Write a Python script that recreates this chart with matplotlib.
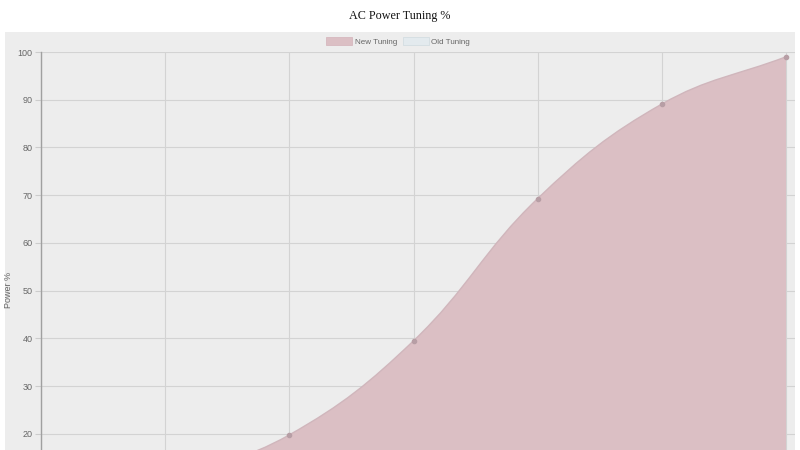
import matplotlib
matplotlib.use("Agg")
import matplotlib.pyplot as plt
from matplotlib.path import Path
from matplotlib.patches import PathPatch, Rectangle
import numpy as np

# ---- data ----
x_labels = ["0", "1", "2", "3", "4", "5", "6"]
new_tuning = [0, 10, 19.8, 39.5, 69.3, 89.1, 99.0]
old_tuning = []
y_ticks = [20, 30, 40, 50, 60, 70, 80, 90, 100]

W, H = 800, 450
fig = plt.figure(figsize=(8, 4.5), dpi=100)
fig.patch.set_facecolor("white")

# gray chart background
fig.add_artist(Rectangle((5 / W, 0), 790 / W, (H - 32) / H, transform=fig.transFigure,
                         facecolor="#ededed", edgecolor="none", zorder=0))

left_px, right_px, top_px, bottom_px = 41, 795, 52, 529.4
ax = fig.add_axes([left_px / W, 1 - bottom_px / H, (right_px - left_px) / W, (bottom_px - top_px) / H])
ax.set_facecolor("none")
xmax = (len(new_tuning) - 1) * (right_px - left_px) / (786 - left_px)
ax.set_xlim(0, xmax)
ax.set_ylim(0, 100)
ax.set_yticks(y_ticks)
ax.set_yticklabels([str(v) for v in y_ticks], fontsize=6.5, color="#666666", family="Liberation Sans")
# x labels lie below the visible (cropped) canvas in the reference
ax.set_xticks(range(len(x_labels)))
ax.set_xticklabels([])
ax.tick_params(axis="x", length=0)
ax.tick_params(axis="y", length=4, color="#cccccc", pad=2)
ax.grid(True, color="#d3d3d3", linewidth=0.8)
ax.set_axisbelow(True)
for s in ["top", "right", "bottom"]:
    ax.spines[s].set_visible(False)
ax.spines["left"].set_color("#a0a0a0")
ax.spines["left"].set_linewidth(1)

# y-axis title
fig.text(8.5 / W, 1 - 290 / H, "Power %", rotation=90, ha="center", va="center",
         fontsize=6.5, color="#666666", family="Liberation Sans")

# Chart.js-like bezier curve (tension 0.4) computed in display space
fig.canvas.draw()
xs = np.arange(len(new_tuning), dtype=float)
pts = ax.transData.transform(np.column_stack([xs, new_tuning]))
t = 0.4
n = len(pts)
cp_prev = np.zeros_like(pts)
cp_next = np.zeros_like(pts)
for i in range(n):
    prev = pts[i - 1] if i > 0 else pts[i]
    cur = pts[i]
    nxt = pts[i + 1] if i < n - 1 else pts[i]
    d01 = np.hypot(*(cur - prev))
    d12 = np.hypot(*(nxt - cur))
    tot = d01 + d12
    s01 = d01 / tot if tot else 0
    s12 = d12 / tot if tot else 0
    cp_prev[i] = cur - t * s01 * (nxt - prev)
    cp_next[i] = cur + t * s12 * (nxt - prev)

verts = [pts[0]]
codes = [Path.MOVETO]
for i in range(n - 1):
    verts += [cp_next[i], cp_prev[i + 1], pts[i + 1]]
    codes += [Path.CURVE4] * 3
inv = ax.transData.inverted()
verts_d = inv.transform(np.array(verts))
line_path = Path(verts_d, codes)

fill_verts = list(verts_d) + [[xs[-1], 0], [xs[0], 0], verts_d[0]]
fill_codes = list(codes) + [Path.LINETO, Path.LINETO, Path.CLOSEPOLY]
ax.add_patch(PathPatch(Path(fill_verts, fill_codes), facecolor="#dbbfc4", edgecolor="none", zorder=2))
ax.add_patch(PathPatch(line_path, facecolor="none", edgecolor="#d0b6bc", linewidth=1.0, zorder=3))
ax.plot(xs, new_tuning, "o", markersize=3.0, color="#b79ea5", zorder=4, clip_on=False)
if old_tuning:
    ax.plot(range(len(old_tuning)), old_tuning, color="#dde7ec")

# title
fig.text(0.5, 1 - 16 / H, "AC Power Tuning %", ha="center", va="center", fontsize=8.7,
         family="Liberation Serif", color="#111111")

# legend
fig.add_artist(Rectangle((326 / W, 1 - 45 / H), 26 / W, 8 / H, transform=fig.transFigure,
                         facecolor="#dbbfc4", edgecolor="#d6b8be", linewidth=0.6))
fig.text(355 / W, 1 - 44.5 / H, "New Tuning", ha="left", va="baseline", fontsize=5.8,
         family="Liberation Sans", color="#666666")
fig.add_artist(Rectangle((403 / W, 1 - 45 / H), 26 / W, 8 / H, transform=fig.transFigure,
                         facecolor="#e3eaee", edgecolor="#d3dde2", linewidth=0.6))
fig.text(431 / W, 1 - 44.5 / H, "Old Tuning", ha="left", va="baseline", fontsize=5.8,
         family="Liberation Sans", color="#666666")

fig.savefig("out.png", dpi=100)
